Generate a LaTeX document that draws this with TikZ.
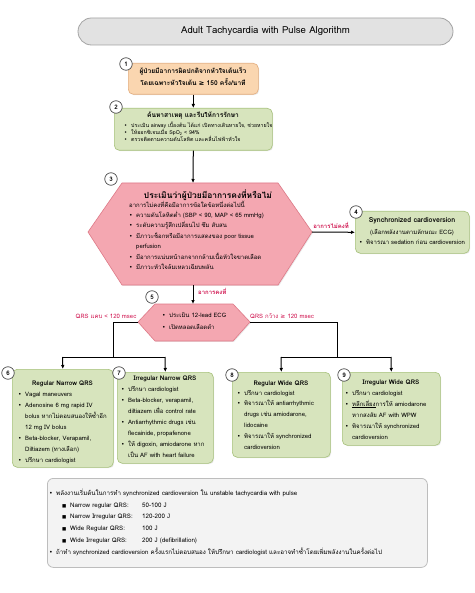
\documentclass[tikz,border=0pt]{standalone}
\usepackage{fontspec}
\setmainfont[Script=Thai]{Loma}
\newfontfamily\symf{DejaVu Sans}
\usetikzlibrary{arrows.meta,shadows}
\definecolor{peachF}{HTML}{FAD6B0}
\definecolor{peachD}{HTML}{E3AC7C}
\definecolor{greenF}{HTML}{D7E4BD}
\definecolor{greenD}{HTML}{A6C179}
\definecolor{pinkF}{HTML}{F4A7B1}
\definecolor{pinkD}{HTML}{DE7987}
\definecolor{titleF}{HTML}{E2E2E2}
\definecolor{titleD}{HTML}{A3A3A3}
\definecolor{noteF}{HTML}{F3F3F3}
\definecolor{noteD}{HTML}{BDBDBD}
\definecolor{lblred}{HTML}{D0124E}
\newcommand\bul{\makebox[7pt][l]{\symf •}}
\newcommand\cnt{\hspace*{7pt}}
\newcommand\gsym{{\symf ≥}}
\newcommand\sqb{\makebox[8pt][l]{\symf\fontsize{4.5}{5}\selectfont ■}}
\begin{document}
\begin{tikzpicture}[x=1pt,y=-1pt,
  every node/.style={inner sep=0pt},
  ln/.style={anchor=base west, font=\fontsize{6}{7}\selectfont},
  lnb/.style={anchor=base west, font=\fontsize{6.2}{7}\selectfont},
  lns/.style={anchor=base west, font=\fontsize{5.3}{6}\selectfont},
  lnc/.style={anchor=base, font=\fontsize{6}{7}\selectfont},
  hd/.style={anchor=base, font=\fontsize{6.4}{7}\selectfont\bfseries},
  softshadow/.style={drop shadow={opacity=0.18, shadow xshift=0.9pt, shadow yshift=-0.9pt}},
  gbox/.style={draw=greenD, fill=greenF, line width=0.6pt, rounded corners=5pt, anchor=north west, softshadow},
  pbox/.style={draw=peachD, fill=peachF, line width=0.6pt, rounded corners=5pt, anchor=north west, softshadow},
  hexa/.style={draw=pinkD, fill=pinkF, line width=0.6pt, softshadow},
  num/.style={circle, draw=black!70, fill=white, line width=0.7pt, minimum size=12.5pt, font=\fontsize{6.2}{6}\selectfont\bfseries},
  arr/.style={-{Latex[length=4pt,width=3.6pt]}, line width=1pt},
  conn/.style={line width=1pt},
  lbl/.style={text=lblred, font=\fontsize{6}{6}\selectfont\bfseries},
  lblr/.style={text=lblred, font=\fontsize{6}{6}\selectfont}
]
\useasboundingbox (0,0) rectangle (474,593);
\fill[white] (0,0) rectangle (474,593);

% title
\node[draw=titleD, fill=titleF, rounded corners=13.5pt, minimum width=375pt, minimum height=27pt, line width=0.8pt, font=\fontsize{9.6}{11}\selectfont] (title) at (265.5,31.5) {Adult Tachycardia with Pulse Algorithm};

% box 1
\node[pbox, minimum width=130pt, minimum height=31pt] (b1) at (128,63) {};
\node[hd, font=\fontsize{6.6}{7}\selectfont\bfseries] (t1a) at (193,73.5) {ผู้ป่วยมีอาการผิดปกติจากหัวใจเต้นเร็ว};
\node[hd, font=\fontsize{6.6}{7}\selectfont\bfseries] (t1b) at (193,85.5) {โดยเฉพาะหัวใจเต้น \gsym\ 150 ครั้ง/นาที};

% box 2
\node[gbox, minimum width=158pt, minimum height=42pt] (b2) at (114,108) {};
\node[hd, font=\fontsize{6.6}{7}\selectfont\bfseries] (t2h) at (193,117.5) {ค้นหาสาเหตุ และรีบให้การรักษา};
\foreach \t [count=\i] in {{\bul ประเมิน airway เบื้องต้น ได้แก่ เปิดทางเดินหายใจ, ช่วยหายใจ},{\bul ให้ออกซิเจนเมื่อ SpO\textsubscript{2} < 94\%},{\bul ตรวจติดตามความดันโลหิต และคลื่นไฟฟ้าหัวใจ}}
  \node[lns] (t2-\i) at (124,{127.5+7.2*(\i-1)}) {\t};

% hexagon 3
\coordinate (h3L) at (88,232);
\coordinate (h3TL) at (122,183);
\coordinate (h3TR) at (278,183);
\coordinate (h3R) at (312,232);
\coordinate (h3BR) at (278,285);
\coordinate (h3BL) at (122,285);
\coordinate (h3T) at (193,183);
\coordinate (h3B) at (193,285);
\draw[hexa] (h3L) -- (h3TL) -- (h3TR) -- (h3R) -- (h3BR) -- (h3BL) -- cycle;
\node[anchor=base, font=\fontsize{8.4}{9}\selectfont\bfseries] (t3h) at (208,198.5) {ประเมินว่าผู้ป่วยมีอาการคงที่หรือไม่};
\node[ln] (t3s) at (129,207.5) {อาการไม่คงที่คือมีอาการข้อใดข้อหนึ่งต่อไปนี้};
\foreach \t [count=\i] in {{\bul ความดันโลหิตต่ำ (SBP < 90, MAP < 65 mmHg)},{\bul ระดับความรู้สึกเปลี่ยนไป ซึม สับสน},{\bul มีภาวะช็อกหรือมีอาการแสดงของ poor tissue},{\cnt perfusion},{\bul มีอาการแน่นหน้าอกจากกล้ามเนื้อหัวใจขาดเลือด},{\bul มีภาวะหัวใจล้มเหลวเฉียบพลัน}}
  \node[ln] (t3-\i) at (129,{217.5+10.4*(\i-1)}) {\t};

% box 4
\node[gbox, minimum width=114pt, minimum height=42pt] (b4) at (355,211) {};
\node[anchor=base, font=\fontsize{7}{8}\selectfont\bfseries] (t4h) at (412,223) {Synchronized cardioversion};
\node[lnc] (t4a) at (412,234) {(เลือกพลังงานตามลักษณะ ECG)};
\node[ln] (t4b) at (359,244.5) {\bul พิจารณา sedation ก่อน cardioversion};

% hexagon 5
\coordinate (h5L) at (138,322);
\coordinate (h5TL) at (155,304);
\coordinate (h5TR) at (233,304);
\coordinate (h5R) at (250,322);
\coordinate (h5BR) at (233,341);
\coordinate (h5BL) at (155,341);
\coordinate (h5T) at (193,304);
\draw[hexa] (h5L) -- (h5TL) -- (h5TR) -- (h5R) -- (h5BR) -- (h5BL) -- cycle;
\node[ln] (t5a) at (162,317.5) {\bul ประเมิน 12-lead ECG};
\node[ln] (t5b) at (162,329.5) {\bul เปิดหลอดเลือดดำ};

% boxes 6-9
\node[gbox, minimum width=101pt, minimum height=98pt] (b6) at (12,369) {};
\node[gbox, minimum width=96pt, minimum height=91pt] (b7) at (117,372) {};
\node[gbox, minimum width=98pt, minimum height=85pt] (b8) at (232,372) {};
\node[gbox, minimum width=98pt, minimum height=73pt] (b9) at (342,372) {};

\node[hd] (t6h) at (62.5,385) {Regular Narrow QRS};
\foreach \t [count=\i] in {{\bul Vagal maneuvers},{\bul Adenosine 6 mg rapid IV},{\cnt bolus หากไม่ตอบสนองให้ซ้ำอีก},{\cnt 12 mg IV bolus},{\bul Beta-blocker, Verapamil,},{\cnt Diltiazem (ทางเลือก)},{\bul ปรึกษา cardiologist}}
  \node[ln] (t6-\i) at (18,{396+11*(\i-1)}) {\t};

\node[hd] (t7h) at (165,380) {Irregular Narrow QRS};
\foreach \t [count=\i] in {{\bul ปรึกษา cardiologist},{\bul Beta-blocker, verapamil,},{\cnt diltiazem เพื่อ control rate},{\bul Antiarrhythmic drugs เช่น},{\cnt flecainide, propafenone},{\bul ให้ digoxin, amiodarone หาก},{\cnt เป็น AF with heart failure}}
  \node[ln] (t7-\i) at (121,{391+11.1*(\i-1)}) {\t};

\node[hd] (t8h) at (281,385) {Regular Wide QRS};
\foreach \t [count=\i] in {{\bul ปรึกษา cardiologist},{\bul พิจารณาให้ antiarrhythmic},{\cnt drugs เช่น amiodarone,},{\cnt lidocaine},{\bul พิจารณาให้ synchronized},{\cnt cardioversion}}
  \node[ln] (t8-\i) at (237,{395+10.8*(\i-1)}) {\t};

\node[hd] (t9h) at (391,384) {Irregular Wide QRS};
\foreach \t [count=\i] in {{\bul ปรึกษา cardiologist},{\bul \underline{หลีกเลี่ยง}การให้ amiodarone},{\cnt หากสงสัย AF with WPW},{\bul พิจารณาให้ synchronized},{\cnt cardioversion}}
  \node[ln] (t9-\i) at (345,{395+11*(\i-1)}) {\t};

% numbers
\node[num] (n1) at (126,64) {1};
\node[num] (n2) at (116,107) {2};
\node[num] (n3) at (111,179) {3};
\node[num] (n4) at (356,212) {4};
\node[num] (n5) at (152,297) {5};
\node[num] (n6) at (8,373) {6};
\node[num] (n7) at (119,373) {7};
\node[num] (n8) at (232,375) {8};
\node[num] (n9) at (344,375) {9};

% connectors
\draw[arr] (b1.south) -- (b2.north);
\draw[arr] (b2.south) -- (h3T);
\draw[arr] (h3R) -- (b4.west);
\node[lbl, anchor=base] (l4) at (331,229) {อาการไม่คงที่};
\draw[arr] (h3B) -- (h5T);
\node[lbl, anchor=base west] (l5) at (198,294) {อาการคงที่};
\coordinate (jL) at (113,357);
\coordinate (cL6) at (62.5,357);
\coordinate (cL7) at (165,357);
\coordinate (jR) at (337,357);
\coordinate (cR8) at (281,357);
\coordinate (cR9) at (391,357);
\draw[conn] (h5L) -| (jL);
\draw[conn] (cL6) -- (cL7);
\draw[arr] (cL6) -- (b6.north);
\draw[arr] (cL7) -- (b7.north);
\draw[conn] (h5R) -| (jR);
\draw[conn] (cR8) -- (cR9);
\draw[arr] (cR8) -- (b8.north);
\draw[arr] (cR9) -- (b9.north);
\node[lblr, anchor=base] (lq1) at (106,318) {QRS แคบ < 120 msec};
\node[lblr, anchor=base] (lq2) at (282,318) {QRS กว้าง \gsym\ 120 msec};

% note box
\node[draw=noteD, fill=noteF, rounded corners=6pt, minimum width=380pt, minimum height=89pt, anchor=north west, line width=0.8pt] (note) at (47,478) {};
\node[lnb] (tn1) at (49,495) {\bul พลังงานเริ่มต้นในการทำ synchronized cardioversion ใน unstable tachycardia with pulse};
\foreach \a/\b [count=\i] in {{Narrow regular QRS:}/{50-100 J},{Narrow Irregular QRS:}/{120-200 J},{Wide Regular QRS:}/{100 J},{Wide Irregular QRS:}/{200 J (defibrillation)}}
  {\node[lnb] (tq-\i) at (62,{507+11.7*(\i-1)}) {\sqb\a};
   \node[lnb] (tv-\i) at (142,{507+11.7*(\i-1)}) {\b};}
\node[lnb] (tn2) at (49,554) {\bul ถ้าทำ synchronized cardioversion ครั้งแรกไม่ตอบสนอง ให้ปรึกษา cardiologist และอาจทำซ้ำโดยเพิ่มพลังงานในครั้งต่อไป};
\end{tikzpicture}
\end{document}
